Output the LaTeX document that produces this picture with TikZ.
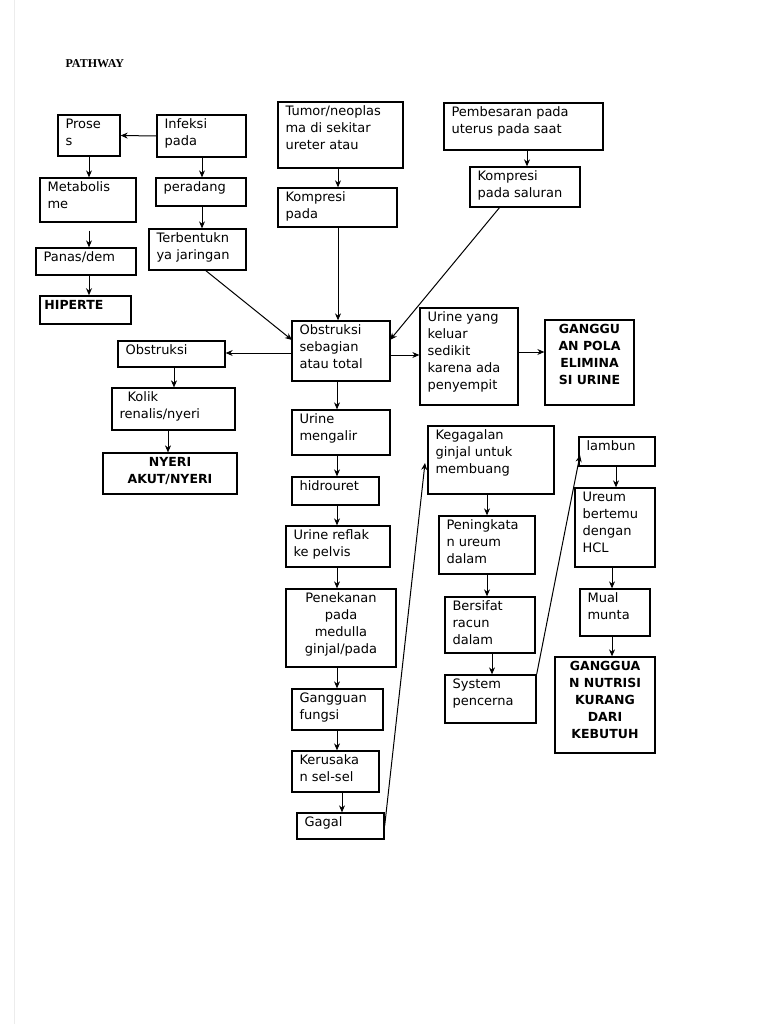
\documentclass[tikz,border=0pt]{standalone}
\usepackage{fontspec}
\setmainfont{DejaVu Sans}
\newfontfamily\titlefont{Liberation Serif}
\usetikzlibrary{fit,arrows.meta}
\tikzset{
 box/.style={draw,line width=1.3pt,inner sep=0pt},
 txt/.style={anchor=north west,inner sep=0pt,align=left,font=\fontsize{13}{17}\selectfont},
 ctxt/.style={anchor=north,inner sep=0pt,align=center,font=\fontsize{13}{17}\selectfont},
 btxt/.style={anchor=north,inner sep=0pt,align=center,font=\fontsize{12.5}{17}\selectfont\bfseries},
 arr/.style={-{Stealth[length=7pt,width=6pt]},line width=1pt}
}
\newcommand\bx[6]{\node[box,fit={(#2,#3)(#4,#5)}] (#1) {};
 \node[txt] (#1t) at ([xshift=8pt,yshift=-4pt]#1.north west) {#6};}
\newcommand\bbx[6]{\node[box,fit={(#2,#3)(#4,#5)}] (#1) {};
 \node[btxt] (#1t) at ([yshift=-5pt]#1.north) {#6};}
\begin{document}
\begin{tikzpicture}[x=1pt,y=-1pt]
\useasboundingbox[fill=white] (0,0) rectangle (768,1024);
\draw[gray!15] (14,0) -- (14,1024);
\node[anchor=west,font=\titlefont\bfseries\fontsize{12}{14}\selectfont] (title) at (62,64) {PATHWAY};
\bx{prose}{58}{115}{120}{156}{Prose\\s}
\bx{infeksi}{157}{115}{246}{157}{Infeksi\\pada}
\bx{meta}{40}{178}{136}{222}{Metabolis\\me}
\bx{peradang}{156}{178}{246}{206}{peradang}
\bx{panas}{36}{248}{136}{275}{Panas/dem}
\bx{terb}{149}{229}{246}{270}{Terbentukn\\ya jaringan}
\node[box,line width=1.6pt,fit={(40,296)(131,324)}] (hip) {};
\node[txt,font=\fontsize{12.5}{17}\selectfont\bfseries] (hipt) at ([xshift=5pt,yshift=-5pt]hip.north west) {HIPERTE};
\bx{tumor}{278}{102}{403}{168}{Tumor/neoplas\\ma di sekitar\\ureter atau}
\bx{komp}{278}{188}{397}{227}{Kompresi\\pada}
\bx{pemb}{444}{103}{603}{150}{Pembesaran pada\\uterus pada saat}
\bx{komps}{470}{167}{580}{207}{Kompresi\\pada saluran}
\bx{obs}{292}{321}{390}{381}{Obstruksi\\sebagian\\atau total}
\bx{obsl}{118}{341}{225}{367}{Obstruksi}
\bx{kolik}{112}{388}{235}{430}{\hspace*{8pt}Kolik\\renalis/nyeri}
\bbx{nyeri}{103}{453}{237}{494}{NYERI\\AKUT/NYERI}
\bx{urk}{420}{308}{518}{405}{Urine yang\\keluar\\sedikit\\karena ada\\penyempit}
\bbx{ggpola}{545}{320}{634}{405}{GANGGU\\AN POLA\\ELIMINA\\SI URINE}
\bx{urm}{292}{410}{390}{455}{Urine\\mengalir}
\bx{hid}{292}{477}{379}{505}{hidrouret}
\bx{ref}{286}{526}{390}{567}{Urine reflak\\ke pelvis}
\node[box,fit={(286,589)(396,667)}] (pen) {};
\node[ctxt] (pent) at ([yshift=-4pt]pen.north) {Penekanan\\pada\\medulla\\ginjal/pada};
\bx{ggf}{292}{689}{383}{730}{Gangguan\\fungsi}
\bx{ker}{292}{751}{379}{792}{Kerusaka\\n sel-sel}
\bx{gagal}{297}{813}{384}{839}{Gagal}
\bx{keg}{428}{426}{554}{494}{Kegagalan\\ginjal untuk\\membuang}
\bx{peni}{439}{516}{535}{574}{Peningkata\\n ureum\\dalam}
\bx{bers}{445}{597}{535}{653}{Bersifat\\racun\\dalam}
\bx{sys}{445}{675}{536}{723}{System\\pencerna}
\bx{lamb}{579}{437}{655}{466}{lambun}
\bx{ureum}{575}{488}{655}{567}{Ureum\\bertemu\\dengan\\HCL}
\bx{mual}{580}{589}{650}{636}{Mual\\munta}
\bbx{ggnut}{555}{657}{655}{753}{GANGGUA\\N NUTRISI\\KURANG\\DARI\\KEBUTUH}
% arrows
\draw[arr] (infeksi.west) -- (prose.east);
\draw[arr] (prose.south) -- (prose.south|-meta.north);
\draw[arr] (meta.south -| prose.south) ++(0,8) -- (prose.south|-panas.north);
\draw[arr] (prose.south|-panas.south) -- (prose.south|-hip.north);
\draw[arr] (infeksi.south -| 202,0) -- (202,0 |- peradang.north);
\draw[arr] (peradang.south -| 202,0) -- (202,0 |- terb.north);
\draw[arr] (205,270) -- (292,340);
\draw[arr] (tumor.south -| 338,0) -- (338,0 |- komp.north);
\draw[arr] (komp.south -| 338,0) -- (338,0 |- obs.north);
\draw[arr] (pemb.south -| 527,0) -- (527,0 |- komps.north);
\draw[arr] (500,207) -- (390,340);
\draw[arr] (obs.west |- 0,353) -- (obsl.east |- 0,353);
\draw[arr] (obs.east |- 0,355) -- (urk.west |- 0,355);
\draw[arr] (urk.east |- 0,352) -- (ggpola.west |- 0,352);
\draw[arr,line width=0.5pt] (obsl.south -| 174,0) -- (174,0 |- kolik.north);
\draw[arr,line width=0.5pt] (kolik.south -| 168,0) -- (168,0 |- nyeri.north);
\draw[arr] (obs.south -| 337,0) -- (337,0 |- urm.north);
\draw[arr] (urm.south -| 337,0) -- (337,0 |- hid.north);
\draw[arr] (hid.south -| 337,0) -- (337,0 |- ref.north);
\draw[arr] (ref.south -| 337,0) -- (337,0 |- pen.north);
\draw[arr] (pen.south -| 337,0) -- (337,0 |- ggf.north);
\draw[arr] (ggf.south -| 337,0) -- (337,0 |- ker.north);
\draw[arr] (ker.south -| 342,0) -- (342,0 |- gagal.north);
\draw[arr] (gagal.east |- 0,826) -- (425,463);
\draw[arr] (keg.south -| 487,0) -- (487,0 |- peni.north);
\draw[arr] (peni.south -| 487,0) -- (487,0 |- bers.north);
\draw[arr] (bers.south -| 492,0) -- (492,0 |- sys.north);
\draw[arr] (sys.north east) -- (580,455);
\draw[arr] (lamb.south -| 616,0) -- (616,0 |- ureum.north);
\draw[arr] (ureum.south -| 612,0) -- (612,0 |- mual.north);
\draw[arr] (mual.south -| 612,0) -- (612,0 |- ggnut.north);
\end{tikzpicture}
\end{document}
